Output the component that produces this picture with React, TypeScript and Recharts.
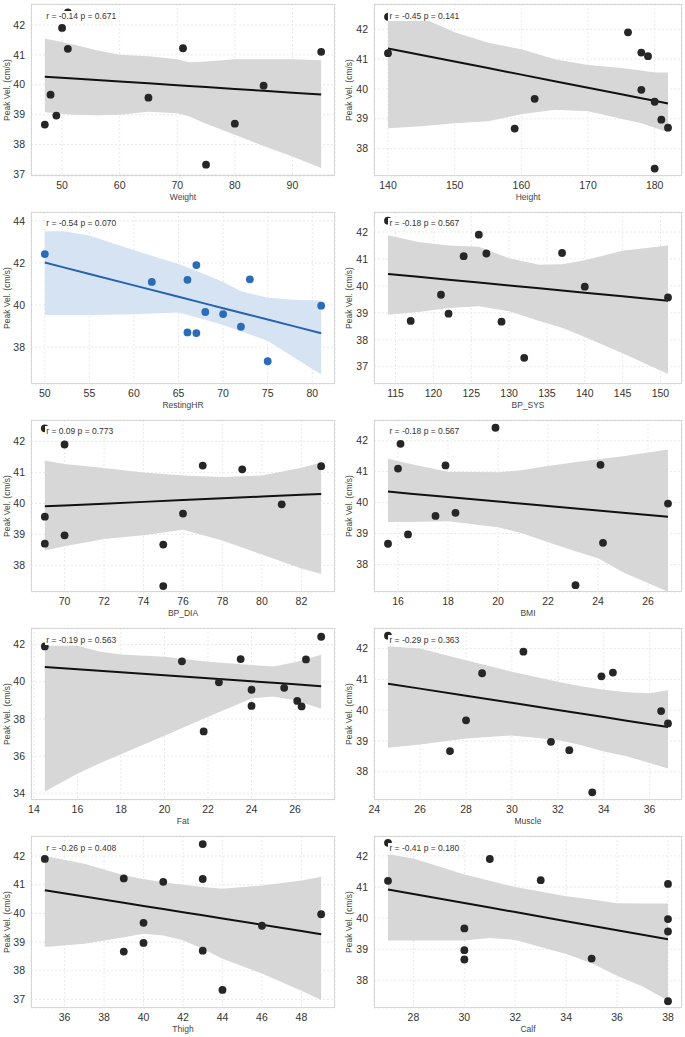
import { Area, CartesianGrid, ComposedChart, Line, Scatter, XAxis, YAxis } from 'recharts';

const FONT = '"Liberation Sans", Arial, sans-serif';

// peak velocity per subject, shared by all panels (same subject order in every x array)
const peakVel = [42.42, 41.9, 41.22, 41.2, 41.1, 39.97, 39.67, 39.57, 38.97, 38.7, 38.67, 37.33];

const weight = [51, 50, 71, 51, 95, 85, 48, 65, 49, 80, 47, 75];
const height = [140, 176, 178, 140, 179, 178, 162, 180, 181, 182, 159, 180];
const restingHR = [50, 67, 73, 66, 62, 81, 68, 70, 72, 66, 67, 75];
const bpSys = [114, 126, 137, 127, 124, 140, 121, 151, 122, 117, 129, 132];
const bpDia = [69, 70, 77, 83, 79, 81, 76, 69, 70, 69, 75, 75];
const bmi = [19.9, 16.1, 24.1, 17.9, 16.0, 26.8, 18.3, 17.5, 16.4, 24.2, 15.6, 23.1];
const fat = [27.2, 14.5, 23.5, 26.5, 20.8, 22.5, 25.5, 24.0, 26.1, 24.0, 26.3, 21.8];
const muscle = [24.6, 30.5, 34.4, 28.7, 33.9, 36.5, 28.0, 36.8, 31.7, 32.5, 27.3, 33.5];
const thigh = [43, 35, 39, 43, 41, 49, 40, 46, 40, 43, 39, 44];
const calf = [27, 31, 33, 27, 38, 38, 30, 38, 30, 35, 30, 38];

// confidence bands
const weightBandX = [47, 52, 56, 60, 65, 70, 72, 75, 80, 85, 90, 95];
const weightBandLo = [39.08, 39.0, 38.98, 39.0, 39.1, 39.05, 38.95, 38.7, 38.33, 37.95, 37.6, 37.22];
const weightBandHi = [41.55, 41.35, 41.15, 41.0, 40.95, 40.85, 40.75, 40.78, 40.85, 40.85, 40.85, 40.82];

const heightBandX = [140, 145, 150, 155, 160, 165, 170, 175, 178, 180, 182];
const heightBandLo = [38.68, 38.75, 38.85, 38.92, 39.15, 39.3, 39.25, 39.0, 38.85, 38.7, 38.55];
const heightBandHi = [42.45, 42.4, 41.9, 41.55, 41.33, 41.0, 40.8, 40.7, 40.62, 40.55, 40.55];

const hrBandX = [50, 52, 55, 60, 65, 68, 70, 72, 75, 78, 81];
const hrBandLo = [39.53, 39.53, 39.53, 39.56, 39.65, 39.3, 39.05, 38.75, 38.3, 37.5, 36.7];
const hrBandHi = [43.5, 43.5, 43.3, 42.6, 41.95, 41.45, 41.1, 40.65, 40.35, 40.25, 40.22];

const sysBandX = [114, 118, 122, 126, 130, 134, 137, 140, 145, 151];
const sysBandLo = [38.93, 39.03, 39.18, 39.24, 39.06, 38.7, 38.45, 38.1, 37.5, 36.73];
const sysBandHi = [41.88, 41.63, 41.5, 41.45, 41.02, 40.78, 40.8, 40.95, 41.3, 41.5];

const diaBandX = [69, 70, 72, 74, 76, 78, 80, 82, 83];
const diaBandLo = [38.48, 38.62, 38.85, 38.97, 39.15, 38.8, 38.35, 37.9, 37.72];
const diaBandHi = [41.38, 41.27, 41.14, 41.0, 40.9, 40.85, 40.9, 41.15, 41.32];

const bmiBandX = [15.6, 16.5, 18, 20, 21, 22, 23, 24, 25, 26.8];
const bmiBandLo = [39.37, 39.37, 39.4, 39.2, 39.0, 38.72, 38.45, 38.2, 37.75, 37.12];
const bmiBandHi = [41.42, 41.25, 41.0, 40.98, 41.05, 41.18, 41.3, 41.4, 41.5, 41.72];

const fatBandX = [14.5, 16, 17, 18, 20, 22, 24, 25, 26, 27.2];
const fatBandLo = [34.1, 35.05, 35.6, 36.1, 37.1, 38.12, 39.1, 39.2, 39.0, 38.55];
const fatBandHi = [41.93, 41.93, 41.62, 41.47, 41.34, 41.08, 40.9, 40.82, 41.05, 41.45];

const muscleBandX = [24.6, 26, 28, 30, 32, 33, 34, 35, 36, 36.8];
const muscleBandLo = [38.78, 38.88, 39.08, 39.18, 39.03, 38.87, 38.66, 38.5, 38.28, 38.1];
const muscleBandHi = [42.08, 42.0, 41.62, 41.25, 40.92, 40.78, 40.66, 40.58, 40.55, 40.65];

const thighBandX = [35, 37, 39, 40, 41, 42, 43, 44, 46, 48, 49];
const thighBandLo = [38.83, 38.94, 39.17, 39.29, 39.23, 39.06, 38.77, 38.42, 37.9, 37.3, 36.98];
const thighBandHi = [42.0, 41.73, 41.33, 41.2, 41.09, 41.0, 40.92, 40.86, 40.97, 41.15, 41.28];

const calfBandX = [27, 28, 30, 31, 32, 34, 35, 36, 37, 38];
const calfBandLo = [39.28, 39.28, 39.28, 39.36, 39.3, 38.85, 38.55, 38.15, 37.8, 37.35];
const calfBandHi = [42.05, 41.92, 41.4, 41.2, 41.0, 40.7, 40.6, 40.48, 40.47, 40.47];

const statText = [
  'r = -0.14 p = 0.671',
  'r = -0.45 p = 0.141',
  'r = -0.54 p = 0.070',
  'r = -0.18 p = 0.567',
  'r = 0.09 p = 0.773',
  'r = -0.18 p = 0.567',
  'r = -0.19 p = 0.563',
  'r = -0.29 p = 0.363',
  'r = -0.26 p = 0.408',
  'r = -0.41 p = 0.180',
];

const panels = [
  { label: 'Weight', xs: weight, bx: weightBandX, lo: weightBandLo, hi: weightBandHi,
    xTicks: [50, 60, 70, 80, 90], yTicks: [37, 38, 39, 40, 41, 42], yDomain: [36.95, 42.7] },
  { label: 'Height', xs: height, bx: heightBandX, lo: heightBandLo, hi: heightBandHi,
    xTicks: [140, 150, 160, 170, 180], yTicks: [38, 39, 40, 41, 42], yDomain: [37.08, 42.85] },
  { label: 'RestingHR', xs: restingHR, bx: hrBandX, lo: hrBandLo, hi: hrBandHi, blue: true,
    xTicks: [50, 55, 60, 65, 70, 75, 80], yTicks: [38, 40, 42, 44], yDomain: [36.25, 44.42] },
  { label: 'BP_SYS', xs: bpSys, bx: sysBandX, lo: sysBandLo, hi: sysBandHi,
    xTicks: [115, 120, 125, 130, 135, 140, 145, 150], yTicks: [37, 38, 39, 40, 41, 42], yDomain: [36.36, 42.74] },
  { label: 'BP_DIA', xs: bpDia, bx: diaBandX, lo: diaBandLo, hi: diaBandHi,
    xTicks: [70, 72, 74, 76, 78, 80, 82], yTicks: [38, 39, 40, 41, 42], yDomain: [37.14, 42.69] },
  { label: 'BMI', xs: bmi, bx: bmiBandX, lo: bmiBandLo, hi: bmiBandHi,
    xTicks: [16, 18, 20, 22, 24, 26], yTicks: [38, 39, 40, 41, 42], yDomain: [37.11, 42.67] },
  { label: 'Fat', xs: fat, bx: fatBandX, lo: fatBandLo, hi: fatBandHi,
    xTicks: [14, 16, 18, 20, 22, 24, 26], yTicks: [34, 36, 38, 40, 42], yDomain: [33.64, 42.89] },
  { label: 'Muscle', xs: muscle, bx: muscleBandX, lo: muscleBandLo, hi: muscleBandHi,
    xTicks: [24, 26, 28, 30, 32, 34, 36], yTicks: [38, 39, 40, 41, 42], yDomain: [37.08, 42.67] },
  { label: 'Thigh', xs: thigh, bx: thighBandX, lo: thighBandLo, hi: thighBandHi,
    xTicks: [36, 38, 40, 42, 44, 46, 48], yTicks: [37, 38, 39, 40, 41, 42], yDomain: [36.7, 42.7] },
  { label: 'Calf', xs: calf, bx: calfBandX, lo: calfBandLo, hi: calfBandHi,
    xTicks: [28, 30, 32, 34, 36, 38], yTicks: [38, 39, 40, 41, 42], yDomain: [37.11, 42.64] },
];

const ROW_TOPS = [4, 211.5, 419.5, 628, 836];
const PLOT_H = 172;
const X_AXIS_H = 30;
const COLS = [
  { left: 0, width: 342, yw: 31, mr: 7 },
  { left: 342, width: 343, yw: 32, mr: 3 },
];

function linFit(xs: number[], ys: number[]) {
  const n = xs.length;
  const mx = xs.reduce((s, v) => s + v, 0) / n;
  const my = ys.reduce((s, v) => s + v, 0) / n;
  let sxy = 0;
  let sxx = 0;
  xs.forEach((x, i) => {
    sxy += (x - mx) * (ys[i] - my);
    sxx += (x - mx) * (x - mx);
  });
  const b = sxy / sxx;
  return { a: my - b * mx, b };
}

function Panel({ cfg, idx }: { cfg: any; idx: number }) {
  const col = COLS[idx % 2];
  const plotTop = ROW_TOPS[Math.floor(idx / 2)];
  const plotW = col.width - col.yw - col.mr;
  const plotLeft = col.left + col.yw;

  const dot = cfg.blue ? '#2b6cb9' : '#262626';
  const lineColor = cfg.blue ? '#2563b0' : '#111111';
  const bandColor = cfg.blue ? '#d5e3f3' : '#d7d7d7';

  const { a, b } = linFit(cfg.xs, peakVel);
  const rows = cfg.bx.map((x: number, i: number) => ({ x, band: [cfg.lo[i], cfg.hi[i]], fit: a + b * x }));
  const pts = cfg.xs.map((x: number, i: number) => ({ x, y: peakVel[i] }));

  const xMin = Math.min(...cfg.xs);
  const xMax = Math.max(...cfg.xs);
  const pad = (xMax - xMin) * 0.05;

  const tick = { fontSize: 10.5, fill: '#333', fontFamily: FONT };

  return (
    <>
      <div style={{ position: 'absolute', left: col.left, top: plotTop - 4 }}>
        <ComposedChart
          width={col.width}
          height={4 + PLOT_H + X_AXIS_H}
          data={rows}
          margin={{ top: 4, right: col.mr, bottom: 0, left: 0 }}
        >
          <CartesianGrid stroke="#e9e9e9" strokeDasharray="2 2" />
          <XAxis
            type="number"
            dataKey="x"
            domain={[xMin - pad, xMax + pad]}
            ticks={cfg.xTicks}
            allowDataOverflow
            interval={0}
            height={X_AXIS_H}
            axisLine={false}
            tickLine={false}
            tickSize={3}
            tickMargin={3}
            tick={tick}
          />
          <YAxis
            type="number"
            domain={cfg.yDomain}
            ticks={cfg.yTicks}
            allowDataOverflow
            interval={0}
            width={col.yw}
            axisLine={false}
            tickLine={false}
            tickSize={3}
            tickMargin={3}
            tick={tick}
          />
          <Area
            dataKey="band"
            stroke="none"
            fill={bandColor}
            fillOpacity={1}
            isAnimationActive={false}
            dot={false}
            activeDot={false}
          />
          <Line
            dataKey="fit"
            stroke={lineColor}
            strokeWidth={2}
            dot={false}
            activeDot={false}
            isAnimationActive={false}
          />
          <Scatter
            data={pts}
            dataKey="y"
            isAnimationActive={false}
            shape={(p: any) => <circle cx={p.cx} cy={p.cy} r={3.9} fill={dot} />}
          />
        </ComposedChart>
      </div>
      {/* plot frame */}
      <div
        style={{
          position: 'absolute',
          left: plotLeft,
          top: plotTop,
          width: plotW,
          height: PLOT_H,
          boxSizing: 'border-box',
          border: '1px solid #d6d6d6',
          pointerEvents: 'none',
        }}
      />
      {/* r / p annotation with white box */}
      <div
        style={{
          position: 'absolute',
          left: plotLeft + plotW * 0.05 - 1,
          top: plotTop + 6.5,
          fontSize: 8.5,
          lineHeight: '10.5px',
          padding: '0 1px',
          background: '#fff',
          color: '#333',
          fontFamily: FONT,
          whiteSpace: 'nowrap',
        }}
      >
        {statText[idx]}
      </div>
      <div
        style={{
          position: 'absolute',
          left: plotLeft + plotW / 2,
          top: plotTop + PLOT_H + 21,
          transform: 'translate(-50%, -50%)',
          fontSize: 8.5,
          color: '#444',
          fontFamily: FONT,
          whiteSpace: 'nowrap',
        }}
      >
        {cfg.label}
      </div>
      <div
        style={{
          position: 'absolute',
          left: col.left + 7,
          top: plotTop + PLOT_H / 2,
          transform: 'translate(-50%, -50%) rotate(-90deg)',
          fontSize: 8.5,
          color: '#444',
          fontFamily: FONT,
          whiteSpace: 'nowrap',
        }}
      >
        Peak Vel. (cm/s)
      </div>
    </>
  );
}

export default function App() {
  return (
    <div style={{ position: 'absolute', left: 0, top: 0, width: 685, height: 1037, background: '#fff', overflow: 'hidden' }}>
      {panels.map((cfg, i) => (
        <Panel key={cfg.label} cfg={cfg} idx={i} />
      ))}
    </div>
  );
}
